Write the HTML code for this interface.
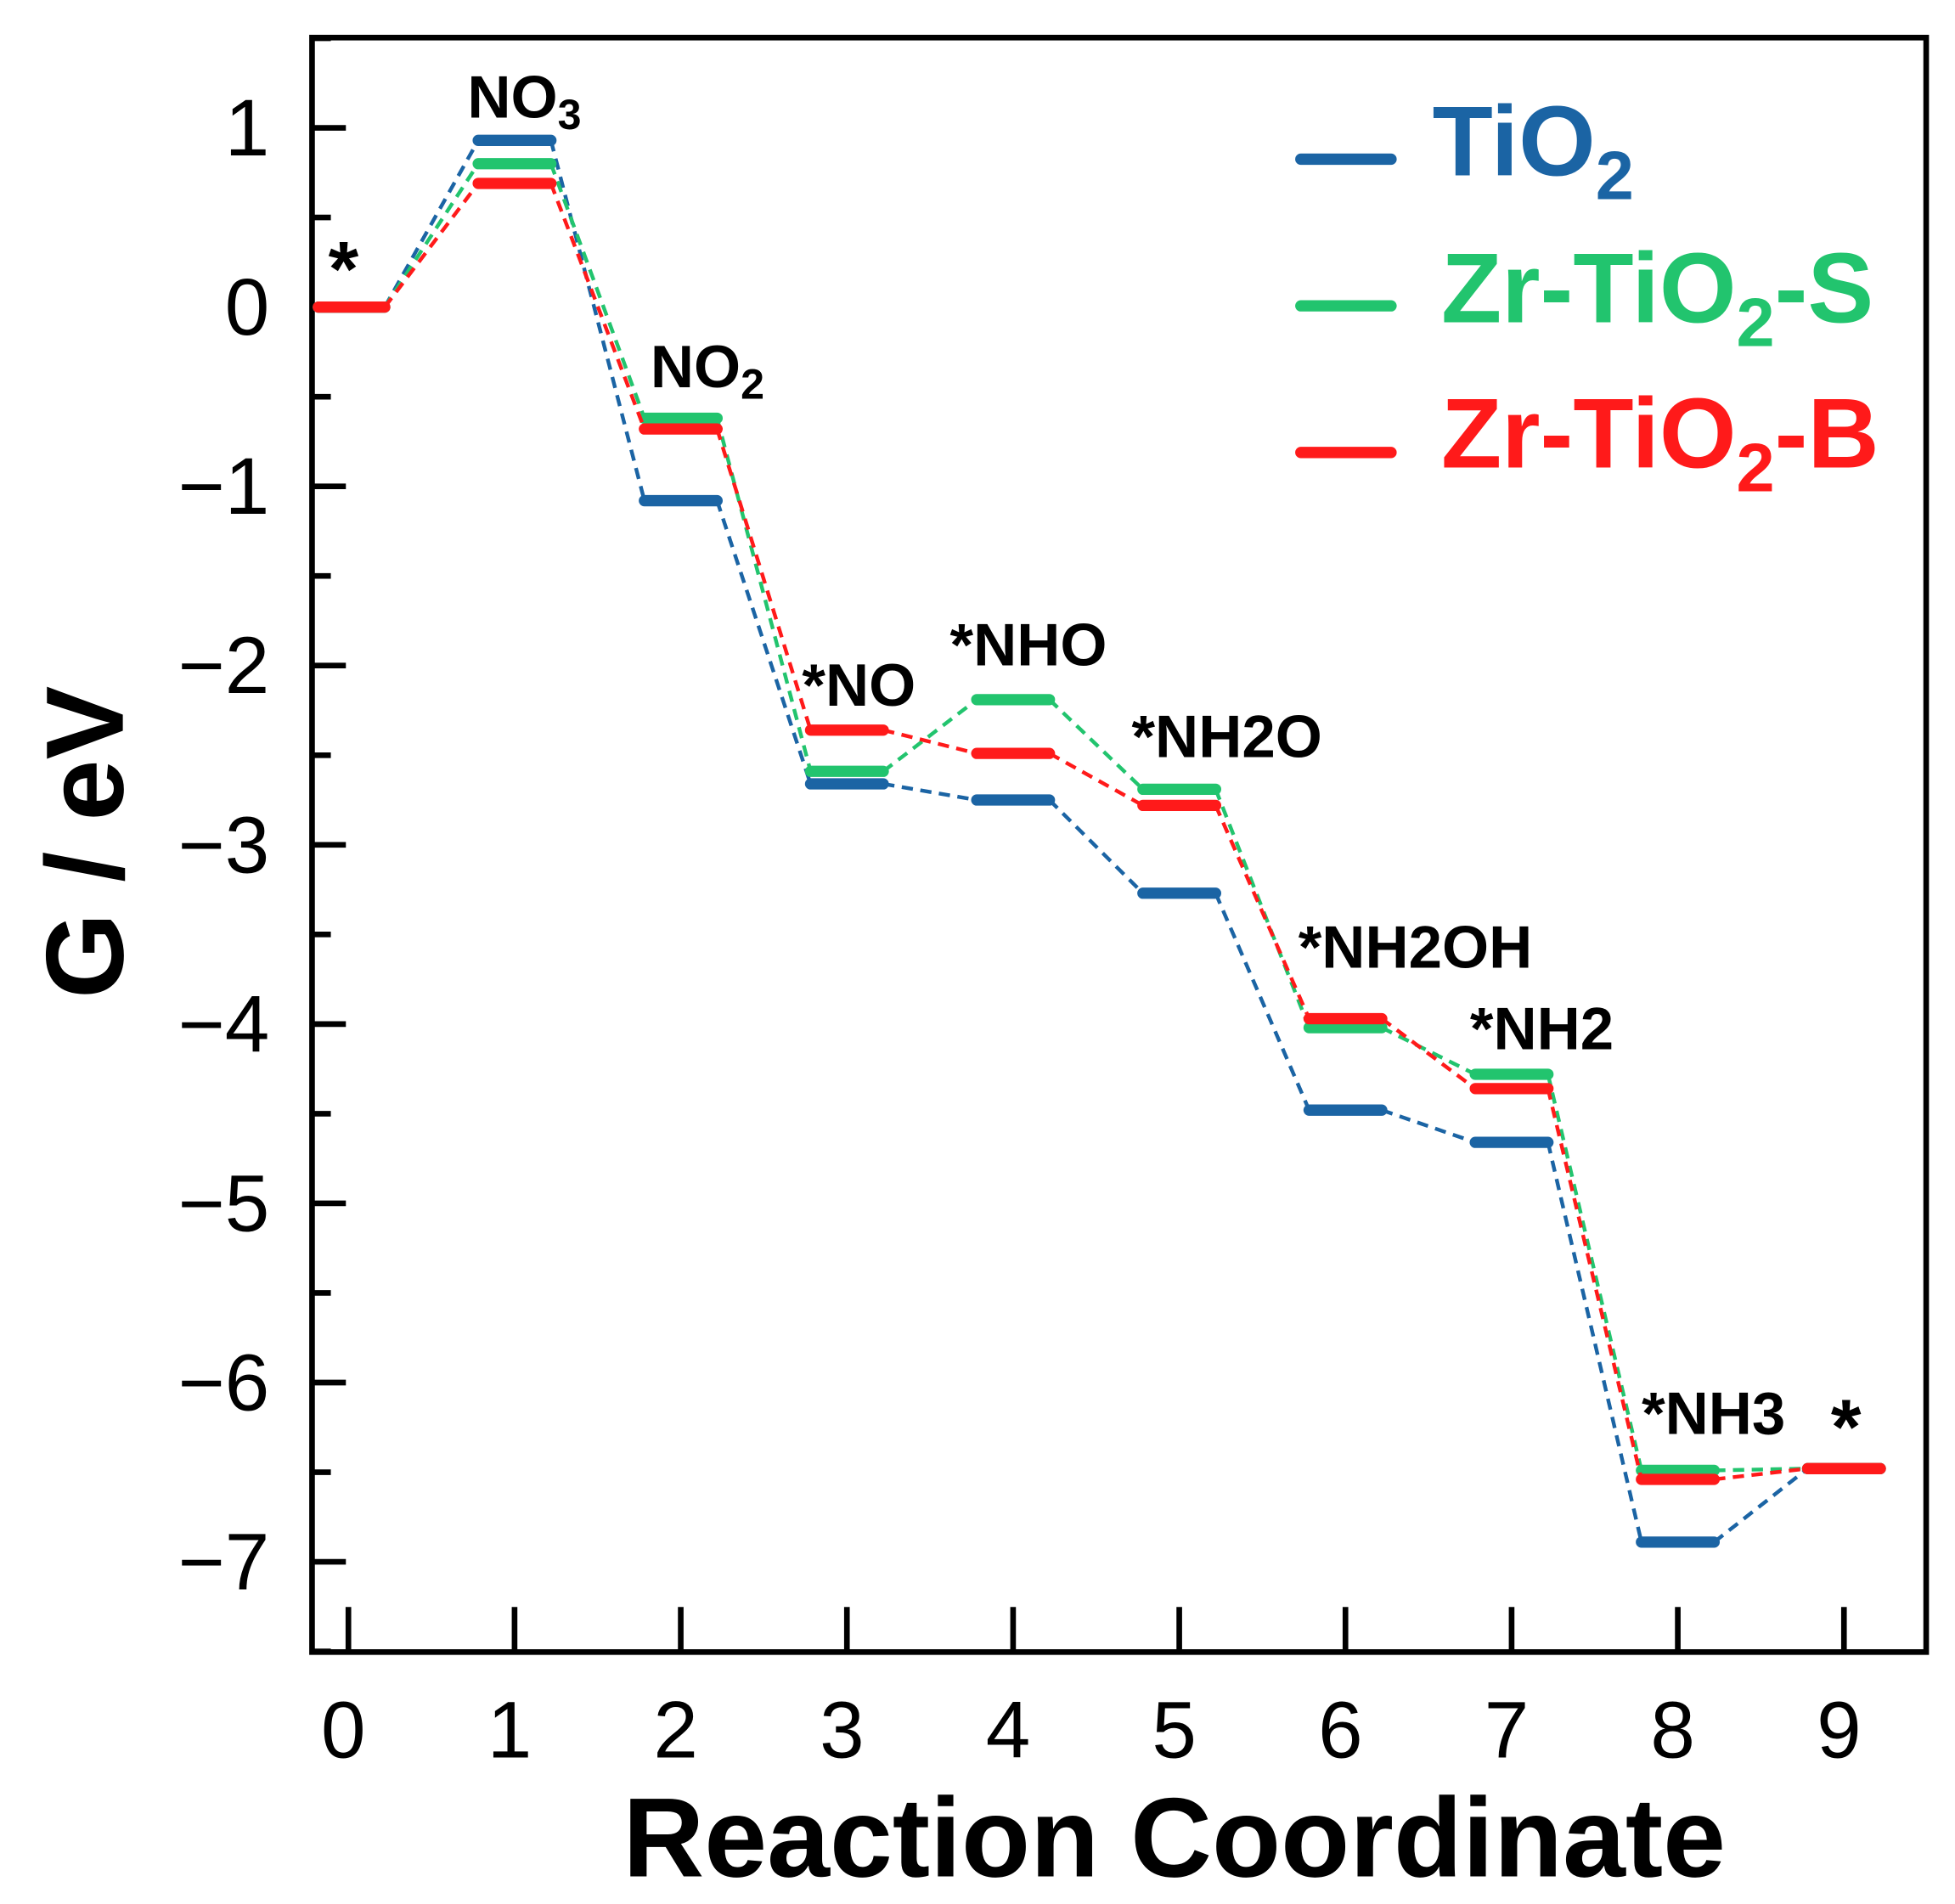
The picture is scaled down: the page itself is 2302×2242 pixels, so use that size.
<!DOCTYPE html>
<html><head><meta charset="utf-8"><style>html,body{margin:0;padding:0;background:#fff}svg{display:block}</style></head>
<body>
<svg width="2302" height="2242" viewBox="0 0 1560 1519" preserveAspectRatio="none" xmlns="http://www.w3.org/2000/svg" font-family="Liberation Sans, Arial, sans-serif">
<rect x="249" y="30" width="1288" height="1288" fill="none" stroke="#000" stroke-width="4.5"/>
<g stroke="#000" stroke-width="4.5" id="ticks"></g>
<g id="series"></g>
<g id="labels" fill="#000"></g>
<text x="937" y="1497" font-size="90" font-weight="bold" text-anchor="middle">Reaction Coordinate</text>
<text transform="translate(98,672) rotate(-90)" font-size="88" font-weight="bold" text-anchor="middle">G / eV</text>
<g font-weight="bold" font-size="48">
<text x="373" y="94">NO<tspan font-size="34" dy="9">3</tspan></text>
<text x="262" y="236" font-size="62">*</text>
<text x="519" y="309">NO<tspan font-size="34" dy="9">2</tspan></text>
<text x="640" y="563">*NO</text>
<text x="758" y="531">*NHO</text>
<text x="903" y="604">*NH2O</text>
<text x="1036" y="772">*NH2OH</text>
<text x="1173" y="837">*NH2</text>
<text x="1310" y="1144">*NH3</text>
<text x="1461" y="1160" font-size="62">*</text>
</g>
<g stroke-width="9" stroke-linecap="round">
<line x1="1038" y1="127" x2="1110" y2="127" stroke="#1b64a4"/>
<line x1="1038" y1="244" x2="1110" y2="244" stroke="#22c46e"/>
<line x1="1038" y1="361" x2="1110" y2="361" stroke="#ff1a1a"/>
</g>
<g font-weight="bold" font-size="79">
<text x="1143" y="140" fill="#1b64a4">TiO<tspan font-size="55" dy="19">2</tspan></text>
<text x="1150" y="257" fill="#22c46e">Zr-TiO<tspan font-size="55" dy="19">2</tspan><tspan dy="-19">-S</tspan></text>
<text x="1150" y="373" fill="#ff1a1a">Zr-TiO<tspan font-size="55" dy="19">2</tspan><tspan dy="-19">-B</tspan></text>
</g>
<script>
var NS="http://www.w3.org/2000/svg";
function X(i){return 278+132.6*i}function Y(v){return 245-143*v}
function el(p,t,a,txt){var e=document.createElementNS(NS,t);for(var k in a)e.setAttribute(k,a[k]);if(txt!=null)e.textContent=txt;p.appendChild(e);return e}
var tk=document.getElementById('ticks'),lb=document.getElementById('labels');
for(var v=1;v>=-7;v--){var y=Y(v);el(tk,'line',{x1:249,y1:y,x2:276,y2:y});
el(lb,'text',{x:215,y:y+22,'font-size':64,'text-anchor':'end'},(v<0?'\u2212':'')+Math.abs(v));}
for(var v=1.5;v>=-7.5;v-=1){var y=Y(v);el(tk,'line',{x1:249,y1:y,x2:264,y2:y});}
for(var i=0;i<10;i++){el(tk,'line',{x1:X(i),y1:1318,x2:X(i),y2:1282});
el(lb,'text',{x:X(i)-4,y:1402,'font-size':64,'text-anchor':'middle'},i);}
var D=[["#1b64a4",[0,0.93,-1.08,-2.66,-2.75,-3.27,-4.48,-4.66,-6.89,-6.48]],
["#22c46e",[0,0.80,-0.62,-2.59,-2.19,-2.69,-4.02,-4.28,-6.49,-6.48]],
["#ff1a1a",[0,0.69,-0.68,-2.36,-2.49,-2.78,-3.97,-4.36,-6.54,-6.48]]];
var s=document.getElementById('series'),h=29;
D.forEach(function(d){var c=d[0],a=d[1];
for(var i=0;i<9;i++)el(s,'line',{x1:X(i)+h,y1:Y(a[i]),x2:X(i+1)-h,y2:Y(a[i+1]),stroke:c,'stroke-width':3,'stroke-dasharray':'9 6'});
for(var i=0;i<10;i++){var x1=i==0?254:X(i)-h;el(s,'line',{x1:x1,y1:Y(a[i]),x2:X(i)+h,y2:Y(a[i]),stroke:c,'stroke-width':9,'stroke-linecap':'round'});}
});
</script>
</svg>
</body></html>
